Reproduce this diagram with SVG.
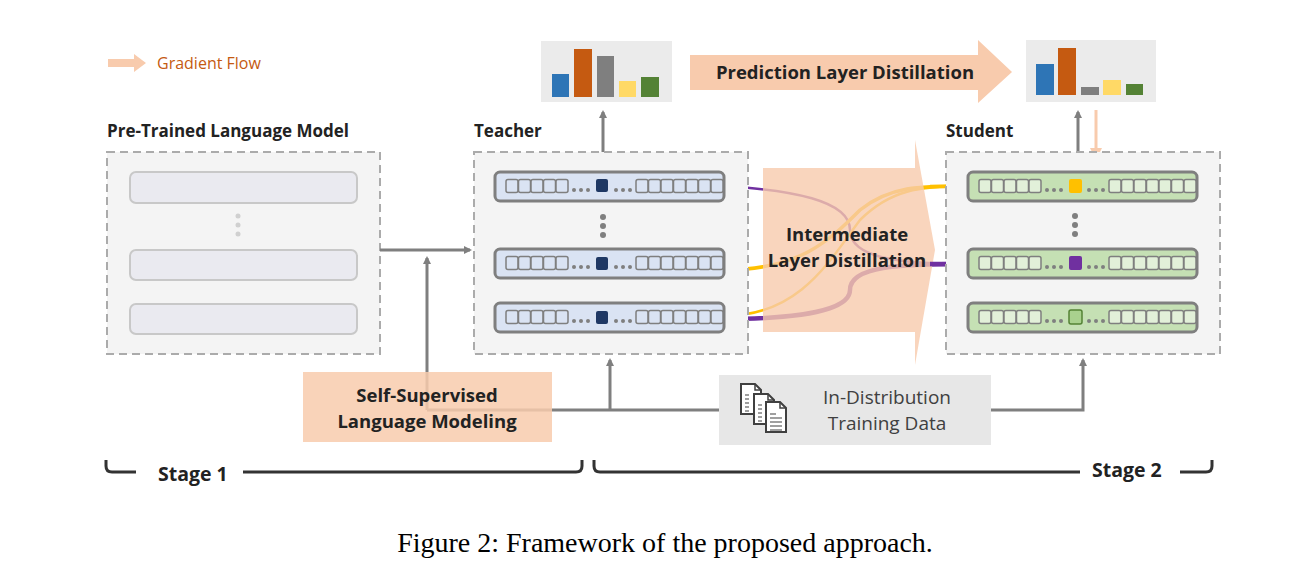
<svg xmlns="http://www.w3.org/2000/svg" xmlns:xlink="http://www.w3.org/1999/xlink" width="1314" height="572" viewBox="0 0 1314 572">
<style>
.t{font-family:"Open Sans","Liberation Sans",sans-serif;font-weight:bold;fill:#222}
.frame{fill:#f4f4f4;stroke:#ababab;stroke-width:2;stroke-dasharray:8,5}
.gl{stroke:#7f7f7f;stroke-width:3;fill:none}
.trow{fill:#dae3f3;stroke:#7f7f7f;stroke-width:3}
.srow{fill:#c5e0b4;stroke:#7f7f7f;stroke-width:3}
.pbar{fill:#eaeaf0;stroke:#c8c8c8;stroke-width:2}
</style>
<defs>
<marker id="ga" markerWidth="8" markerHeight="8" refX="6" refY="4" orient="auto" markerUnits="userSpaceOnUse" viewBox="0 0 8 8"><path d="M0,0 L8,4 L0,8 z" fill="#7f7f7f"/></marker>
<g id="cellsT" fill="#dae3f3" stroke="#7f7f7f" stroke-width="1.5">
<rect x="0" y="-6.5" width="12" height="13" rx="2"/><rect x="12.5" y="-6.5" width="12" height="13" rx="2"/><rect x="25" y="-6.5" width="12" height="13" rx="2"/><rect x="37.5" y="-6.5" width="12" height="13" rx="2"/><rect x="50" y="-6.5" width="12" height="13" rx="2"/>
<rect x="130" y="-6.5" width="12" height="13" rx="2"/><rect x="142.5" y="-6.5" width="12" height="13" rx="2"/><rect x="155" y="-6.5" width="12" height="13" rx="2"/><rect x="167.5" y="-6.5" width="12" height="13" rx="2"/><rect x="180" y="-6.5" width="12" height="13" rx="2"/><rect x="192.5" y="-6.5" width="12" height="13" rx="2"/><rect x="205" y="-6.5" width="12" height="13" rx="2"/>
<g fill="#7f7f7f" stroke="none"><circle cx="68" cy="4" r="2"/><circle cx="75" cy="4" r="2"/><circle cx="82" cy="4" r="2"/><circle cx="110" cy="4" r="2"/><circle cx="117" cy="4" r="2"/><circle cx="124" cy="4" r="2"/></g>
</g>
<g id="cellsS" fill="#e2f0d9" stroke="#7f7f7f" stroke-width="1.5">
<rect x="0" y="-6.5" width="12" height="13" rx="2"/><rect x="12.5" y="-6.5" width="12" height="13" rx="2"/><rect x="25" y="-6.5" width="12" height="13" rx="2"/><rect x="37.5" y="-6.5" width="12" height="13" rx="2"/><rect x="50" y="-6.5" width="12" height="13" rx="2"/>
<rect x="130" y="-6.5" width="12" height="13" rx="2"/><rect x="142.5" y="-6.5" width="12" height="13" rx="2"/><rect x="155" y="-6.5" width="12" height="13" rx="2"/><rect x="167.5" y="-6.5" width="12" height="13" rx="2"/><rect x="180" y="-6.5" width="12" height="13" rx="2"/><rect x="192.5" y="-6.5" width="12" height="13" rx="2"/><rect x="205" y="-6.5" width="12" height="13" rx="2"/>
<g fill="#7f7f7f" stroke="none"><circle cx="68" cy="4" r="2"/><circle cx="75" cy="4" r="2"/><circle cx="82" cy="4" r="2"/><circle cx="110" cy="4" r="2"/><circle cx="117" cy="4" r="2"/><circle cx="124" cy="4" r="2"/></g>
</g>
<g id="doc"><path d="M0,0 H14 L20,6 V30 H0 Z" fill="#fff" stroke="#404040" stroke-width="2"/><path d="M14,0 V6 H20" fill="none" stroke="#404040" stroke-width="1.5"/></g>
</defs>
<rect width="1314" height="572" fill="#fff"/>

<g id="legend">
<path d="M108,59 H134 V54 L146,63 L134,72 V67 H108 Z" fill="#f8cbad"/>
<text x="157" y="69" font-family="Open Sans, Liberation Sans, sans-serif" font-size="16" fill="#c55a11">Gradient Flow</text>
</g>

<g id="plm">
<text class="t" x="107" y="137" font-size="17">Pre-Trained Language Model</text>
<rect class="frame" x="107" y="152" width="273" height="202"/>
<rect class="pbar" x="130" y="172" width="227" height="31" rx="6"/>
<rect class="pbar" x="130" y="250" width="227" height="30" rx="6"/>
<rect class="pbar" x="130" y="304" width="227" height="30" rx="6"/>
<g fill="#d0d0d0"><circle cx="238" cy="216" r="2.5"/><circle cx="238" cy="225" r="2.5"/><circle cx="238" cy="234" r="2.5"/></g>
</g>

<g id="connectors">
<path d="M380,250 H470" class="gl" marker-end="url(#ga)"/>
<path d="M427,410 V258" class="gl" marker-end="url(#ga)"/>
<path d="M427,410 H720 M990,410 H1083 V360" class="gl" marker-end="url(#ga)"/>
<path d="M610,410 V360" class="gl" marker-end="url(#ga)"/>
<path d="M603,152 V112" class="gl" marker-end="url(#ga)"/>
<path d="M1078,152 V112" class="gl" marker-end="url(#ga)"/>
<path d="M1096,110 V150" stroke="#f8cbad" stroke-width="3" fill="none"/>
<path d="M1090,148 L1096,160 L1102,148 Z" fill="#f8cbad"/>
<path d="M724,186 C790,190 850,200 850,230 C850,258 900,264 966,264" stroke="#7030a0" stroke-width="2.5" fill="none"/>
<path d="M724,270 C800,270 830,240 860,210 C890,186 920,186 966,186" stroke="#ffc000" stroke-width="3.5" fill="none"/>
<path d="M724,316 C800,316 830,260 860,220 C890,190 920,186 966,186" stroke="#ffc000" stroke-width="2.5" fill="none"/>
<path d="M724,319 C800,319 850,310 850,290 C850,266 900,264 966,264" stroke="#7030a0" stroke-width="4.5" fill="none"/>
</g>

<g id="ild">
<path d="M763,168 H915 V140 L935,250 L915,365 V332 H763 Z" fill="#f8cbad" opacity="0.8"/>
<text class="t" x="847" y="241" font-size="18.5" text-anchor="middle">Intermediate</text>
<text class="t" x="847" y="267" font-size="18.5" text-anchor="middle">Layer Distillation</text>
</g>
<g id="ild-heads">
<path d="M930,186.5 H956" stroke="#ffc000" stroke-width="3.5"/>
<path d="M954,180 L967,186.5 L954,193 Z" fill="#ffc000"/>
<path d="M930,264 H956" stroke="#7030a0" stroke-width="4.5"/>
<path d="M953,257 L967,264 L953,271 Z" fill="#7030a0"/>
</g>

<g id="teacher">
<text class="t" x="474" y="137" font-size="17">Teacher</text>
<rect class="frame" x="474" y="152" width="274" height="202"/>
<rect class="trow" x="495" y="172" width="229" height="29" rx="5"/>
<use xlink:href="#cellsT" x="506" y="186"/>
<rect x="596" y="179" width="12" height="13" rx="2" fill="#1f3864"/>
<g fill="#7f7f7f"><circle cx="603" cy="217" r="3"/><circle cx="603" cy="226" r="3"/><circle cx="603" cy="235" r="3"/></g>
<rect class="trow" x="495" y="249" width="229" height="29" rx="5"/>
<use xlink:href="#cellsT" x="506" y="263"/>
<rect x="596" y="257" width="12" height="13" rx="2" fill="#1f3864"/>
<rect class="trow" x="495" y="303" width="229" height="29" rx="5"/>
<use xlink:href="#cellsT" x="506" y="317"/>
<rect x="596" y="311" width="12" height="13" rx="2" fill="#1f3864"/>
</g>

<g id="student">
<text class="t" x="946" y="137" font-size="17">Student</text>
<rect class="frame" x="946" y="152" width="274" height="202"/>
<rect class="srow" x="968" y="172" width="229" height="29" rx="5"/>
<use xlink:href="#cellsS" x="979" y="186"/>
<rect x="1069" y="179" width="13" height="14" rx="2" fill="#ffc000"/>
<g fill="#7f7f7f"><circle cx="1075" cy="216" r="3"/><circle cx="1075" cy="225" r="3"/><circle cx="1075" cy="234" r="3"/></g>
<rect class="srow" x="968" y="249" width="229" height="29" rx="5"/>
<use xlink:href="#cellsS" x="979" y="263"/>
<rect x="1069" y="256" width="13" height="14" rx="2" fill="#7030a0"/>
<rect class="srow" x="968" y="303" width="229" height="29" rx="5"/>
<use xlink:href="#cellsS" x="979" y="317"/>
<rect x="1069" y="310" width="13" height="14" rx="2" fill="#a9d18e" stroke="#548235" stroke-width="1.5"/>
</g>

<g id="teacher-pred">
<rect x="541" y="41" width="131" height="61" fill="#ebebeb"/>
<rect x="552" y="74" width="17" height="23" fill="#2e75b6"/>
<rect x="574" y="49" width="18" height="48" fill="#c55a11"/>
<rect x="597" y="56" width="17" height="41" fill="#7f7f7f"/>
<rect x="619" y="81" width="17" height="16" fill="#ffd966"/>
<rect x="641" y="77" width="18" height="20" fill="#548235"/>
</g>

<g id="pld">
<path d="M690,55 H978 V40 L1012,72 L978,103 V90 H690 Z" fill="#f8cbad"/>
<text class="t" x="845" y="79" font-size="18.5" text-anchor="middle">Prediction Layer Distillation</text>
</g>

<g id="student-pred">
<rect x="1026" y="40" width="130" height="62" fill="#ebebeb"/>
<rect x="1036" y="64" width="18" height="31" fill="#2e75b6"/>
<rect x="1058" y="48" width="18" height="47" fill="#c55a11"/>
<rect x="1081" y="87" width="18" height="8" fill="#7f7f7f"/>
<rect x="1103" y="80" width="18" height="15" fill="#ffd966"/>
<rect x="1126" y="84" width="17" height="11" fill="#548235"/>
</g>

<g id="sslm">
<rect x="303" y="372" width="249" height="70" fill="#f8cbad" opacity="0.85"/>
<text class="t" x="427" y="402" font-size="18.5" text-anchor="middle">Self-Supervised</text>
<text class="t" x="427" y="428" font-size="18.5" text-anchor="middle">Language Modeling</text>
</g>

<g id="data">
<rect x="719" y="375" width="272" height="70" fill="#e7e7e7"/>
<use xlink:href="#doc" x="741" y="384"/>
<use xlink:href="#doc" x="754" y="394"/>
<use xlink:href="#doc" x="766" y="402"/>
<g stroke="#404040" stroke-width="1.2"><path d="M745,395 h4 M745,399 h4 M745,403 h4 M745,407 h4 M745,411 h4"/><path d="M758,405 h4 M758,409 h4 M758,413 h4 M758,417 h4 M758,421 h4"/><path d="M770,414 h6 M770,418 h12 M770,422 h12 M770,426 h12 M770,430 h12"/></g>
<text x="887" y="404" font-family="Open Sans, Liberation Sans, sans-serif" font-size="19" fill="#404040" text-anchor="middle">In-Distribution</text>
<text x="887" y="430" font-family="Open Sans, Liberation Sans, sans-serif" font-size="19" fill="#404040" text-anchor="middle">Training Data</text>
</g>

<g id="stages" stroke="#333" stroke-width="3" fill="none">
<path d="M106,460 V466 Q106,472 112,472 H136"/>
<path d="M243,472 H576 Q582,472 582,466 V460"/>
<path d="M594,460 V466 Q594,472 600,472 H1080"/>
<path d="M1180,472 H1206 Q1212,472 1212,466 V460"/>
</g>
<text class="t" x="158" y="481" font-size="19.5">Stage 1</text>
<text class="t" x="1092" y="477" font-size="19.5">Stage 2</text>

<text x="665" y="552" font-family="Liberation Serif, serif" font-size="28" fill="#000" text-anchor="middle">Figure 2: Framework of the proposed approach.</text>
</svg>
